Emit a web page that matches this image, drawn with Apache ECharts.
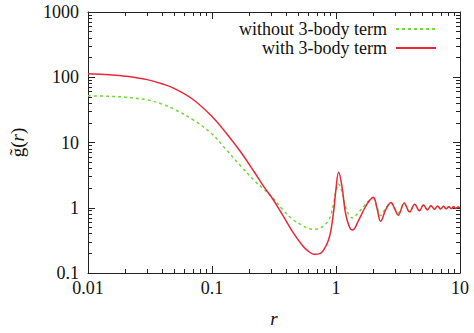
<!DOCTYPE html>
<html>
<head>
<meta charset="utf-8">
<script src="https://cdn.jsdelivr.net/npm/echarts@6/dist/echarts.min.js"></script>
<style>
html,body{margin:0;padding:0;background:#fff;}
#chart{width:474px;height:333px;}
</style>
</head>
<body>
<div id="chart"></div>
<script>
// r values (shared grid)
const rValues = [0.01, 0.015, 0.02, 0.03, 0.04, 0.05, 0.07, 0.1, 0.13, 0.17, 0.22, 0.26, 0.31, 0.375, 0.45, 0.54, 0.6, 0.67, 0.75, 0.82, 0.87, 0.91, 0.96, 1.0, 1.05, 1.12, 1.19, 1.28, 1.36, 1.52, 1.71, 1.87, 2.0, 2.15, 2.29, 2.53, 2.78, 2.98, 3.18, 3.55, 3.92, 4.32, 4.7, 5.08, 5.46, 5.84, 6.22, 6.6, 6.98, 7.36, 7.74, 8.12, 8.5, 8.88, 9.26, 9.64, 10];
// g(r) without 3-body term (green dashed)
const gWithout = [52, 51, 49.5, 45, 38.5, 32, 22.5, 13.5, 7.8, 4.4, 2.6, 1.95, 1.42, 0.92, 0.66, 0.53, 0.48, 0.467, 0.49, 0.56, 0.64, 0.78, 1.2, 1.8, 2.3, 1.75, 1.05, 0.76, 0.7, 0.85, 1.1, 1.3, 1.37, 1.0, 0.76, 1.0, 1.17, 0.97, 0.83, 1.15, 0.88, 1.12, 0.91, 1.09, 0.935, 1.07, 0.95, 1.055, 0.96, 1.048, 0.967, 1.04, 0.97, 1.033, 0.976, 1.028, 1.0];
// g(r) with 3-body term (red solid)
const gWith = [113, 109, 104, 92, 79, 67, 46, 25, 14, 7.2, 3.5, 2.15, 1.35, 0.75, 0.42, 0.26, 0.215, 0.193, 0.2, 0.25, 0.32, 0.45, 0.92, 1.95, 3.5, 2.06, 0.85, 0.51, 0.456, 0.64, 1.0, 1.3, 1.45, 0.95, 0.62, 0.95, 1.2, 0.95, 0.77, 1.18, 0.86, 1.13, 0.9, 1.1, 0.93, 1.075, 0.95, 1.06, 0.96, 1.05, 0.965, 1.04, 0.97, 1.035, 0.975, 1.03, 1.0];
// axis ranges / ticks
const xMin = 0.01, xMax = 10;
const yMin = 0.1, yMax = 1000;
const xMinorTicks = [0.02,0.03,0.04,0.05,0.06,0.07,0.08,0.09,0.2,0.3,0.4,0.5,0.6,0.7,0.8,0.9,2,3,4,5,6,7,8,9];
const yMinorTicks = [0.2,0.3,0.4,0.5,0.6,0.7,0.8,0.9,2,3,4,5,6,7,8,9,20,30,40,50,60,70,80,90,200,300,400,500,600,700,800,900];
const seriesNames = ['without 3-body term', 'with 3-body term'];

const FONT = 'Liberation Serif';
const AX = '#222';
const TXT = '#111';
const L10 = Math.log10;
const RICH = {
  a: { fontFamily: FONT, fontSize: 18, color: TXT },
  g: { fontFamily: FONT, fontSize: 19, color: TXT },
  i: { fontFamily: FONT, fontSize: 19, fontStyle: 'italic', color: TXT }
};

function mkX(pos, main) {
  return {
    type: 'log', logBase: 10, min: xMin, max: xMax, position: pos,
    axisLine: { show: true, onZero: false, lineStyle: { color: AX, width: 1 } },
    axisTick: { show: true, inside: true, length: 7, lineStyle: { color: AX } },
    axisLabel: { show: main, margin: 6, fontFamily: FONT, fontSize: 18, formatter: v => '{a|' + v + '}', rich: RICH },
    splitLine: { show: false }, minorTick: { show: false },
    name: main ? '{i|r}' : '', nameLocation: 'middle', nameGap: 36,
    nameTextStyle: { fontFamily: FONT, fontSize: 19, rich: RICH }
  };
}
function mkXMinor(pos) {
  return {
    type: 'value', min: L10(xMin), max: L10(xMax), position: pos,
    axisLine: { show: false, onZero: false },
    axisTick: { show: true, inside: true, length: 4, customValues: xMinorTicks.map(L10), lineStyle: { color: AX } },
    axisLabel: { show: false }, splitLine: { show: false }
  };
}
function mkY(pos, main) {
  return {
    type: 'log', logBase: 10, min: yMin, max: yMax, position: pos,
    axisLine: { show: true, onZero: false, lineStyle: { color: AX, width: 1 } },
    axisTick: { show: true, inside: true, length: 7, lineStyle: { color: AX } },
    axisLabel: { show: main, margin: 9, fontFamily: FONT, fontSize: 18, formatter: v => '{a|' + v + '}', rich: RICH },
    splitLine: { show: false }, minorTick: { show: false },
    name: main ? '{g|g\u0303(}{i|r}{g|)}' : '', nameLocation: 'middle', nameGap: 61, nameRotate: 90,
    nameTextStyle: { fontFamily: FONT, fontSize: 19, rich: RICH }
  };
}
function mkYMinor(pos) {
  return {
    type: 'value', min: L10(yMin), max: L10(yMax), position: pos,
    axisLine: { show: false, onZero: false },
    axisTick: { show: true, inside: true, length: 4, customValues: yMinorTicks.map(L10), lineStyle: { color: AX } },
    axisLabel: { show: false }, splitLine: { show: false }
  };
}

const option = {
  animation: false,
  backgroundColor: '#fff',
  textStyle: { fontFamily: FONT },
  grid: { left: 81, right: 14, top: 12, bottom: 47, containLabel: false },
  legend: {
    orient: 'vertical', right: 32, top: 15, align: 'right',
    itemWidth: 40, itemHeight: 12, itemGap: 1,
    itemStyle: { opacity: 0 },
    formatter: name => '{a|' + name + '}',
    textStyle: { fontFamily: FONT, fontSize: 18, lineHeight: 14, padding: [0, 4, 0, 0],
      rich: { a: { fontFamily: FONT, fontSize: 18, color: TXT, lineHeight: 14 } } },
    data: seriesNames
  },
  xAxis: [mkX('bottom', true), mkXMinor('bottom'), mkX('top', false), mkXMinor('top')],
  yAxis: [mkY('left', true), mkYMinor('left'), mkY('right', false), mkYMinor('right')],
  series: [
    { name: seriesNames[0], type: 'line', xAxisIndex: 0, yAxisIndex: 0,
      data: rValues.map((r, i) => [r, gWithout[i]]),
      showSymbol: false, symbol: 'none', smooth: 0.4,
      lineStyle: { color: '#72d63c', width: 1.5, type: [3, 3] }, itemStyle: { color: '#72d63c' } },
    { name: seriesNames[1], type: 'line', xAxisIndex: 0, yAxisIndex: 0,
      data: rValues.map((r, i) => [r, gWith[i]]),
      showSymbol: false, symbol: 'none', smooth: 0.4,
      lineStyle: { color: '#e8283a', width: 1.5 }, itemStyle: { color: '#e8283a' } }
  ]
};

const chart = echarts.init(document.getElementById('chart'), null, { renderer: 'svg' });
chart.setOption(option);
</script>
</body>
</html>
